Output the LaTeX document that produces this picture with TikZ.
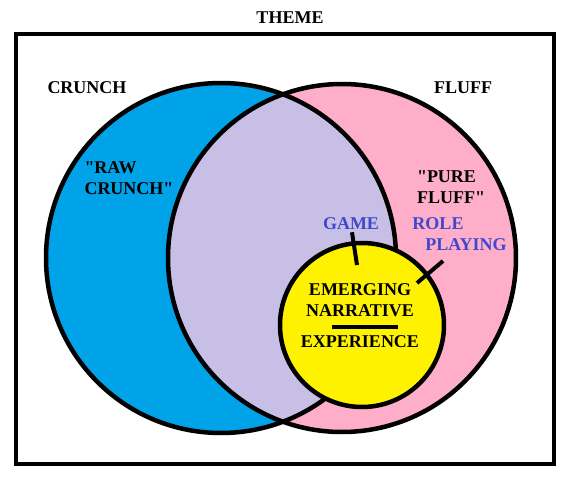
\documentclass[tikz,border=0pt]{standalone}
\usepackage{fontspec}
\setmainfont{Liberation Serif}
\usepackage{tikz}
\usetikzlibrary{positioning}
\definecolor{crunchblue}{RGB}{0,162,232}
\definecolor{fluffpink}{RGB}{255,174,201}
\definecolor{bothlilac}{RGB}{200,191,231}
\definecolor{narryellow}{RGB}{255,242,0}
\definecolor{modeblue}{RGB}{63,72,204}
\tikzstyle{setcircle}=[circle, draw=black, line width=4.5pt, inner sep=0pt]
\tikzstyle{lbl}=[font=\fontsize{18}{21}\selectfont\bfseries, inner sep=2pt]
\tikzstyle{modelbl}=[lbl, text=modeblue]
\tikzstyle{tick}=[line width=4pt, color=black]

\begin{document}
\begin{tikzpicture}[x=1pt, y=-1pt]
  \useasboundingbox (0,0) rectangle (574,479);
  \fill[white] (0,0) rectangle (574,479);
  \node[draw, line width=4pt, minimum width=538pt, minimum height=430pt] (theme) at (284.5,249) {};
  \node[lbl, above=6.5pt of theme.north, xshift=5.5pt] (themelbl) {THEME};
  % the two sets and their overlap
  \fill[crunchblue] (221,258) circle (175);
  \fill[fluffpink] (342,258) circle (174);
  \begin{scope}
    \clip (221,258) circle (175);
    \fill[bothlilac] (342,258) circle (174);
  \end{scope}
  \node[setcircle, minimum size=350pt] (crunch) at (221,258) {};
  \node[setcircle, minimum size=348pt] (fluff) at (342,258) {};
  \node[setcircle, fill=narryellow, minimum size=164pt] (story) at (362,325) {};
  % labels
  \node[lbl] (crunchlbl) at (87,88) {CRUNCH};
  \node[lbl] (flufflbl) at (463,88) {FLUFF};
  \node[lbl, align=left] (raw) at (129,178) {\textquotedbl RAW\\CRUNCH\textquotedbl};
  \node[lbl, align=left] (pure) at (451,187) {\textquotedbl PURE\\FLUFF\textquotedbl};
  \node[modelbl] (game) at (351,224) {GAME};
  \node[modelbl] (role) at (438,224) {ROLE};
  \node[modelbl] (playing) at (466,245) {PLAYING};
  \node[lbl, align=center] (emerging) at (360,300) {EMERGING\\NARRATIVE};
  \node[lbl] (experience) at (360,342) {EXPERIENCE};
  % connectors
  \coordinate (gametip) at (357,265);
  \coordinate (roletop) at (443,261);
  \coordinate (roletip) at (417,283);
  \coordinate (barl) at (332,327);
  \coordinate (barr) at (398,327);
  \draw[tick] ([xshift=1pt]game.south) -- (gametip);
  \draw[tick] (roletop) -- (roletip);
  \draw[tick] (barl) -- (barr);
\end{tikzpicture}
\end{document}
